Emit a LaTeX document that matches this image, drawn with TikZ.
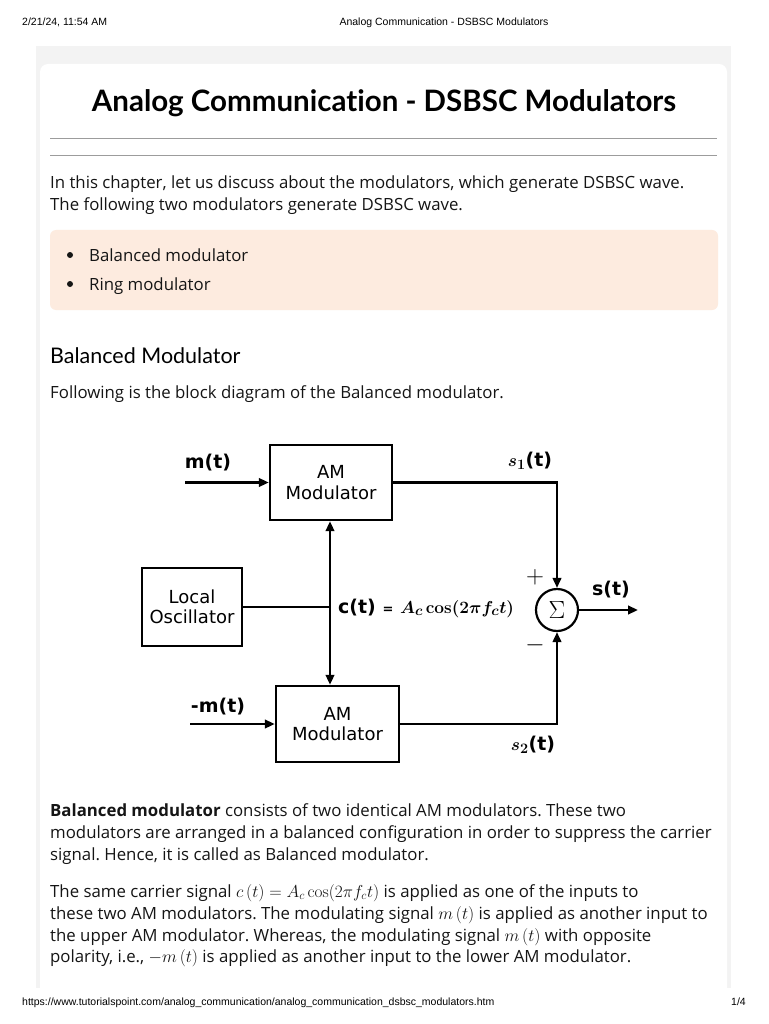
\documentclass[tikz,border=0pt]{standalone}
\usepackage[no-math]{fontspec}
\usepackage{amsmath,bm}
\setmainfont{Open Sans}
\newfontfamily\hdrfont{Liberation Sans}
\newfontfamily\ttlfont[Ligatures=NoCommon]{Lato}
\newfontfamily\dgmfont{DejaVu Sans}
\usetikzlibrary{arrows.meta,calc,positioning}
\definecolor{ink}{HTML}{151515}
\definecolor{pagegrey}{HTML}{F3F3F3}
\definecolor{rulegrey}{HTML}{9C9C9C}
\definecolor{peach}{HTML}{FDEBDF}
\newcommand\mth[1]{{\fontsize{18}{20}\selectfont$#1$}}
\tikzset{>={Triangle[length=10pt,width=8.5pt]},
  hdr/.style={font=\hdrfont\fontsize{10.5}{12}\selectfont,inner sep=0pt},
  body/.style={font=\fontsize{16.8}{20}\selectfont,anchor=base west,inner sep=0pt,text=ink},
  block/.style={draw,line width=2.4pt,align=center,inner sep=0pt,
    font=\dgmfont\fontsize{18}{20.5}\selectfont},
  sig/.style={font=\dgmfont\bfseries\fontsize{19}{22}\selectfont,inner sep=0pt},
  wire/.style={line width=2.4pt},
  dot/.style={circle,fill=ink,minimum size=6pt,inner sep=0pt}}
\begin{document}
\frenchspacing
\begin{tikzpicture}[x=1pt,y=-1pt]
\useasboundingbox (0,0) rectangle (768,1024);
% page frame
\fill[pagegrey] (36,46) rectangle (731,988);
\fill[white,rounded corners=8pt] (40,64) rectangle (727,1000);
\fill[white] (30,988) rectangle (740,1024);
\node[hdr,anchor=base west] (date) at (22,26) {2/21/24, 11:54 AM};
\node[hdr,anchor=base] (tab) at (444,26) {Analog Communication - DSBSC Modulators};
\node[hdr,anchor=base west] (url) at (22,1005) {https://www.tutorialspoint.com/analog\_communication/analog\_communication\_dsbsc\_modulators.htm};
\node[hdr,anchor=base east] (pg) at (746,1005) {1/4};
% heading and intro
\node[font=\ttlfont\bfseries\fontsize{29.5}{34}\selectfont,anchor=base,inner sep=0pt] (title) at (384,112) {Analog Communication - DSBSC Modulators};
\draw[rulegrey,line width=1pt] (50,139) -- (717,139);
\draw[rulegrey,line width=1pt] (50,156) -- (717,156);
\node[body] (p1a) at (50,189) {In this chapter, let us discuss about the modulators, which generate DSBSC wave.};
\node[body] (p1b) at (50,211) {The following two modulators generate DSBSC wave.};
\fill[peach,rounded corners=6pt] (50,230) rectangle (718,310);
\node[dot] (b1) at (70,255) {};\node[body] (i1) at (89,261) {Balanced modulator};
\node[dot] (b2) at (70,284) {};\node[body] (i2) at (89,290) {Ring modulator};
\node[font=\ttlfont\fontsize{21.5}{25}\selectfont,anchor=base west,inner sep=0pt] (sec) at (50,363) {Balanced Modulator};
\node[body] (p2) at (50,398) {Following is the block diagram of the Balanced modulator.};
% block diagram
\node[block,minimum width=122pt,minimum height=75pt] (am1) at (331,482.5) {AM\\Modulator};
\node[block,minimum width=123pt,minimum height=76pt] (am2) at (337.5,724) {AM\\Modulator};
\node[block,minimum width=100pt,minimum height=78pt] (lo) at (192,607) {Local\\Oscillator};
\node[draw,circle,line width=2.2pt,minimum size=42pt,inner sep=0pt,font=\fontsize{25}{27}\selectfont] (sum) at (557,610) {$\Sigma$};
\coordinate (min) at (185,482.5);
\coordinate (nmin) at (190,724);
\coordinate (tap) at (330,607);
\coordinate (sout) at (638,610);
\draw[wire,->] (min) -- (am1.west);
\draw[wire,->] (nmin) -- (am2.west);
\draw[wire] (lo.east) -- (tap);
\draw[wire,->] (tap) -- (tap |- am1.south);
\draw[wire,->] (tap) -- (tap |- am2.north);
\draw[wire,->] (am1.east) -| (sum.north);
\draw[wire,->] (am2.east) -| (sum.south);
\draw[wire,->] (sum.east) -- (sout);
\node[sig] (lm) at (208,463) {m(t)};
\node[sig] (lnm) at (218,707) {-m(t)};
\node[sig] (ls1) at (530,461) {$\boldsymbol{s_1}$(t)};
\node[sig] (ls2) at (533,745) {$\boldsymbol{s_2}$(t)};
\node[sig] (ls) at (611,590) {s(t)};
\node[sig,anchor=west] (lc) at (338,608) {c(t) {\fontsize{13}{14}\selectfont =} $\boldsymbol{A_c\cos(2\pi f_c t)}$};
\node[font=\fontsize{24}{26}\selectfont,inner sep=0pt] (plus) at (535,577) {$+$};
\node[font=\fontsize{24}{26}\selectfont,inner sep=0pt] (minus) at (535,645) {$-$};
% explanation
\node[body] (p3a) at (50,816) {\textbf{Balanced modulator} consists of two identical AM modulators. These two};
\node[body] (p3b) at (50,838) {modulators are arranged in a balanced configuration in order to suppress the carrier};
\node[body] (p3c) at (50,860) {signal. Hence, it is called as Balanced modulator.};
\node[body] (p4a) at (50,897) {The same carrier signal \mth{c\left(t\right)=A_c\cos(2\pi f_ct)} is applied as one of the inputs to};
\node[body] (p4b) at (50,919) {these two AM modulators. The modulating signal \mth{m\left(t\right)} is applied as another input to};
\node[body] (p4c) at (50,941) {the upper AM modulator. Whereas, the modulating signal \mth{m\left(t\right)} with opposite};
\node[body] (p4d) at (50,962) {polarity, i.e., \mth{-m\left(t\right)} is applied as another input to the lower AM modulator.};
\end{tikzpicture}
\end{document}
